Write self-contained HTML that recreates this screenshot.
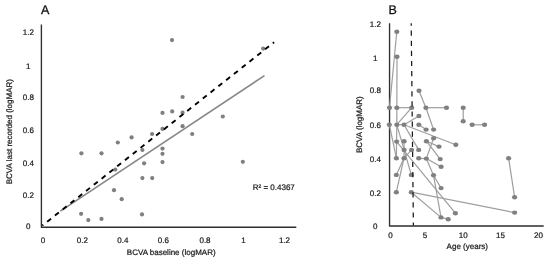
<!DOCTYPE html>
<html><head><meta charset="utf-8"><title>Figure</title>
<style>html,body{margin:0;padding:0;background:#fff;}svg{display:block;}</style>
</head><body>
<svg width="550" height="261" viewBox="0 0 550 261" text-rendering="geometricPrecision">
<rect width="550" height="261" fill="#fff"/>
<g font-family="'Liberation Sans', Arial, sans-serif" fill="#111" stroke="#111" stroke-width="0.3">
<text x="41" y="14.4" font-size="12.5">A</text>
<text x="388.5" y="14.4" font-size="12.5">B</text>
</g>
<g font-family="'Liberation Sans', Arial, sans-serif" font-size="8" fill="#1a1a1a" stroke="#1a1a1a" stroke-width="0.22" text-anchor="middle">
<text x="28.3" y="35.2">1.2</text>
<text x="28.3" y="68.9">1</text>
<text x="28.3" y="100">0.8</text>
<text x="28.3" y="133">0.6</text>
<text x="28.3" y="165.7">0.4</text>
<text x="28.3" y="197.9">0.2</text>
<text x="28.3" y="228.9">0</text>
<text x="42.9" y="242.5">0</text>
<text x="82.3" y="242.5">0.2</text>
<text x="122.9" y="242.5">0.4</text>
<text x="163.4" y="242.5">0.6</text>
<text x="205" y="242.5">0.8</text>
<text x="243.4" y="242.5">1</text>
<text x="284.5" y="242.5">1.2</text>
<text x="171.2" y="255.4">BCVA baseline (logMAR)</text>
<text transform="translate(11.5 131.65) rotate(-90)" x="0" y="0">BCVA last recorded (logMAR)</text>
<text x="273.8" y="189.5">R² = 0.4367</text>
<text x="375.3" y="27">1.2</text>
<text x="375.3" y="60.5">1</text>
<text x="375.3" y="93.4">0.8</text>
<text x="375.3" y="127.5">0.6</text>
<text x="375.3" y="161.9">0.4</text>
<text x="375.3" y="196.2">0.2</text>
<text x="375.3" y="228.9">0</text>
<text x="390.5" y="238.3">0</text>
<text x="425" y="238.3">5</text>
<text x="463.2" y="238.3">10</text>
<text x="500.4" y="238.3">15</text>
<text x="538.4" y="238.3">20</text>
<text x="467.3" y="248.8">Age (years)</text>
<text transform="translate(362.4 124.65) rotate(-90)" x="0" y="0">BCVA (logMAR)</text>
</g>
<g stroke="#2e2e2e" stroke-width="1.35" fill="none" stroke-linejoin="round">
<path d="M41.4 24.5V227.2H296.3"/>
<path d="M389.55 23.3V226H543.7"/>
</g>
<path d="M60.4 211.2L264.5 75.6" stroke="#878787" stroke-width="1.6" fill="none"/>
<g fill="#7f7f7f">
<circle cx="172" cy="40.1" r="2.1"/>
<circle cx="263.2" cy="48.6" r="2.1"/>
<circle cx="182.6" cy="97" r="2.1"/>
<circle cx="162.5" cy="112.9" r="2.1"/>
<circle cx="172.2" cy="111.4" r="2.1"/>
<circle cx="182.6" cy="112.7" r="2.1"/>
<circle cx="222.8" cy="116.5" r="2.1"/>
<circle cx="162.5" cy="128.9" r="2.1"/>
<circle cx="182.6" cy="126.2" r="2.1"/>
<circle cx="152.1" cy="134" r="2.1"/>
<circle cx="192.2" cy="134" r="2.1"/>
<circle cx="131.6" cy="137.4" r="2.1"/>
<circle cx="117.8" cy="142.5" r="2.1"/>
<circle cx="162.5" cy="148.6" r="2.1"/>
<circle cx="142.4" cy="150" r="2.1"/>
<circle cx="162.5" cy="153.8" r="2.1"/>
<circle cx="81.4" cy="153.3" r="2.1"/>
<circle cx="101.5" cy="153.3" r="2.1"/>
<circle cx="162.5" cy="162.1" r="2.1"/>
<circle cx="242.8" cy="161.8" r="2.1"/>
<circle cx="144.1" cy="163.3" r="2.1"/>
<circle cx="115.3" cy="169.6" r="2.1"/>
<circle cx="142.4" cy="178.1" r="2.1"/>
<circle cx="152.2" cy="178.1" r="2.1"/>
<circle cx="114" cy="190.2" r="2.1"/>
<circle cx="121.7" cy="199.2" r="2.1"/>
<circle cx="142" cy="214.4" r="2.1"/>
<circle cx="81.1" cy="213.8" r="2.1"/>
<circle cx="88.3" cy="220.1" r="2.1"/>
<circle cx="101.5" cy="218.9" r="2.1"/>
</g>
<path d="M42.3 225.6L274.1 42.2" stroke="#000" stroke-width="1.9" stroke-dasharray="5 4.924" stroke-dashoffset="3.75" fill="none"/>
<g stroke="#9e9e9e" stroke-width="1.2" fill="none">
<path d="M396.8 31.8L389.5 107.7"/>
<path d="M397 56.8L396.8 124.7"/>
<path d="M396.8 124.7L396.4 158.2"/>
<path d="M404.1 141.2L404 158.2"/>
<path d="M418.7 158.3L426.3 158.6"/>
<path d="M396.8 107.7L411.7 107.7"/>
<path d="M411.7 107.7L396.8 124.7"/>
<path d="M419 90.7L425.9 107.7"/>
<path d="M425.9 107.7L446.5 107.7"/>
<path d="M425.9 107.7L433.6 129.6"/>
<path d="M463.2 107.7L463.2 121.3"/>
<path d="M418.9 116L404 124.7"/>
<path d="M418.8 124.7L426.1 129.6"/>
<path d="M472.1 124.8L484.6 124.8"/>
<path d="M404 124.7L455.8 144.8"/>
<path d="M404 124.7L418.7 149.9"/>
<path d="M389.3 124.7L396.4 158.2"/>
<path d="M396.8 124.7L404.1 149.9"/>
<path d="M396.8 124.7L404 124.7"/>
<path d="M396.6 141.6L455.4 213.2"/>
<path d="M411.6 149.9L404 158.2"/>
<path d="M404.1 149.9L411.3 174.9"/>
<path d="M404 158.2L396.3 174.9"/>
<path d="M404 158.2L396.3 192.2"/>
<path d="M433.6 138.2L426.3 158.6"/>
<path d="M426.4 141.2L440.2 159.1"/>
<path d="M426.4 141.2L439 146.6"/>
<path d="M426.3 158.6L441.1 166.8"/>
<path d="M426.3 158.6L433.5 175.2"/>
<path d="M433.5 175.2L441.1 188.1"/>
<path d="M433.5 175.2L441 217.4"/>
<path d="M441 217.4L448.2 219.2"/>
<path d="M411.3 192.2L514.6 212.6"/>
<path d="M411.3 192.2L441 217.4"/>
<path d="M508.6 158.2L514.6 197.2"/>
</g>
<g fill="#808080">
<ellipse cx="396.8" cy="31.8" rx="2.6" ry="2.2"/>
<ellipse cx="397" cy="56.8" rx="2.6" ry="2.2"/>
<ellipse cx="419" cy="90.7" rx="2.6" ry="2.2"/>
<ellipse cx="389.5" cy="107.7" rx="2.6" ry="2.2"/>
<ellipse cx="396.8" cy="107.7" rx="2.6" ry="2.2"/>
<ellipse cx="411.7" cy="107.7" rx="2.6" ry="2.2"/>
<ellipse cx="425.9" cy="107.7" rx="2.6" ry="2.2"/>
<ellipse cx="446.5" cy="107.7" rx="2.6" ry="2.2"/>
<ellipse cx="463.2" cy="107.7" rx="2.6" ry="2.2"/>
<ellipse cx="418.9" cy="116" rx="2.6" ry="2.2"/>
<ellipse cx="463.2" cy="121.3" rx="2.6" ry="2.2"/>
<ellipse cx="389.3" cy="124.7" rx="2.6" ry="2.2"/>
<ellipse cx="396.8" cy="124.7" rx="2.6" ry="2.2"/>
<ellipse cx="404" cy="124.7" rx="2.6" ry="2.2"/>
<ellipse cx="418.8" cy="124.7" rx="2.6" ry="2.2"/>
<ellipse cx="472.1" cy="124.8" rx="2.6" ry="2.2"/>
<ellipse cx="484.6" cy="124.8" rx="2.6" ry="2.2"/>
<ellipse cx="426.1" cy="129.6" rx="2.6" ry="2.2"/>
<ellipse cx="433.6" cy="129.6" rx="2.6" ry="2.2"/>
<ellipse cx="433.6" cy="138.2" rx="2.6" ry="2.2"/>
<ellipse cx="396.6" cy="141.6" rx="2.6" ry="2.2"/>
<ellipse cx="404.1" cy="141.2" rx="2.6" ry="2.2"/>
<ellipse cx="426.4" cy="141.2" rx="2.6" ry="2.2"/>
<ellipse cx="439" cy="146.6" rx="2.6" ry="2.2"/>
<ellipse cx="455.8" cy="144.8" rx="2.6" ry="2.2"/>
<ellipse cx="404.1" cy="149.9" rx="2.6" ry="2.2"/>
<ellipse cx="411.6" cy="149.9" rx="2.6" ry="2.2"/>
<ellipse cx="418.7" cy="149.9" rx="2.6" ry="2.2"/>
<ellipse cx="396.4" cy="158.2" rx="2.6" ry="2.2"/>
<ellipse cx="404" cy="158.2" rx="2.6" ry="2.2"/>
<ellipse cx="418.7" cy="158.3" rx="2.6" ry="2.2"/>
<ellipse cx="426.3" cy="158.6" rx="2.6" ry="2.2"/>
<ellipse cx="440.2" cy="159.1" rx="2.6" ry="2.2"/>
<ellipse cx="508.6" cy="158.2" rx="2.6" ry="2.2"/>
<ellipse cx="441.1" cy="166.8" rx="2.6" ry="2.2"/>
<ellipse cx="396.3" cy="174.9" rx="2.6" ry="2.2"/>
<ellipse cx="411.3" cy="174.9" rx="2.6" ry="2.2"/>
<ellipse cx="433.5" cy="175.2" rx="2.6" ry="2.2"/>
<ellipse cx="441.1" cy="188.1" rx="2.6" ry="2.2"/>
<ellipse cx="396.3" cy="192.2" rx="2.6" ry="2.2"/>
<ellipse cx="411.3" cy="192.2" rx="2.6" ry="2.2"/>
<ellipse cx="514.6" cy="197.2" rx="2.6" ry="2.2"/>
<ellipse cx="455.4" cy="213.2" rx="2.6" ry="2.2"/>
<ellipse cx="514.6" cy="212.6" rx="2.6" ry="2.2"/>
<ellipse cx="441" cy="217.4" rx="2.6" ry="2.2"/>
<ellipse cx="448.2" cy="219.2" rx="2.6" ry="2.2"/>
</g>
<path d="M411.2 23.3L413.4 225.5" stroke="#1a1a1a" stroke-width="1.25" stroke-dasharray="5.2 4.9" stroke-dashoffset="2.8" fill="none"/>
</svg>
</body></html>
